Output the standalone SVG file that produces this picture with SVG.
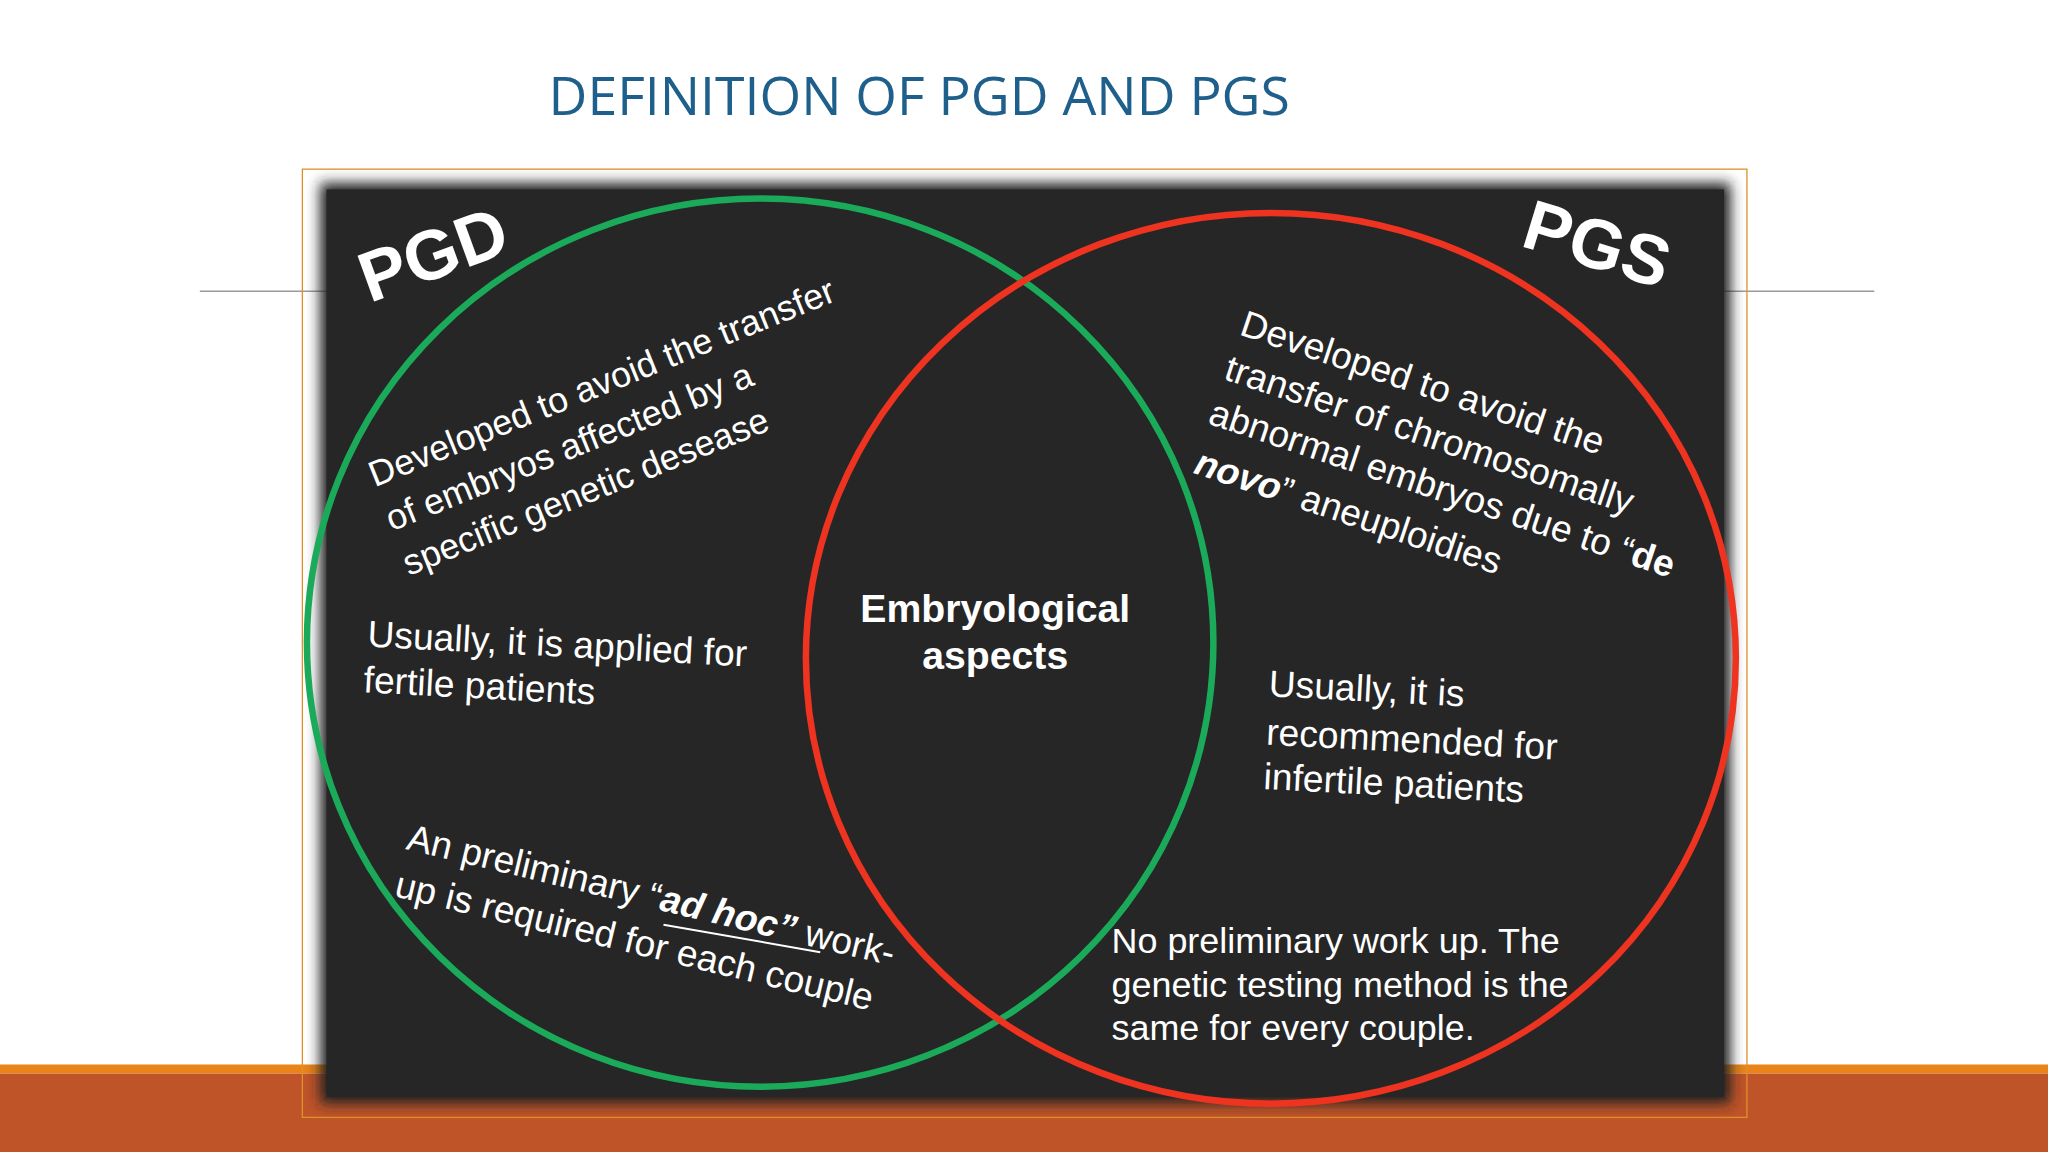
<svg xmlns="http://www.w3.org/2000/svg" width="2048" height="1152" viewBox="0 0 2048 1152">
<defs>
<style>
.t{font-family:"Liberation Sans",Arial,sans-serif;fill:#fff;font-size:27.5px}
.m{font-size:28.5px}
.p{font-size:28.5px}
.h{font-size:54px;font-weight:bold}
.b{font-weight:bold}
</style>
<filter id="bl" x="-5%" y="-5%" width="110%" height="110%"><feGaussianBlur stdDeviation="5"/></filter>
</defs>
<rect width="2048" height="1152" fill="#fff"/>
<g transform="scale(1.30612)">
<text x="420" y="88" font-family="Open Sans,Liberation Sans,sans-serif" font-size="41" fill="#1f5f8b">DEFINITION OF PGD AND PGS</text>
<g stroke="#999" stroke-width="1"><line x1="153" y1="223" x2="250" y2="223"/><line x1="1318" y1="223" x2="1435" y2="223"/></g>
<rect x="0" y="815" width="1568" height="7" fill="#e8841a"/>
<rect x="0" y="822" width="1568" height="60" fill="#bf5429"/>
<rect x="231.5" y="129.5" width="1106" height="726" fill="none" stroke="#e0902a" stroke-width="1"/>
<g id="board">
<rect x="245" y="140" width="1080" height="705" fill="#222" filter="url(#bl)"/>
<rect x="250" y="145" width="1070" height="695" fill="#262626"/>
</g>
<g id="connectors" fill="none" stroke-width="5">
<ellipse id="pgd-circle" cx="582" cy="492" rx="347" ry="340" stroke="#1aaa5a"/>
<ellipse id="pgs-circle" cx="973" cy="504" rx="356" ry="341" stroke="#ee3320"/>
</g>
<g id="pgd">
<text class="t h" transform="translate(283,232) rotate(-20)">PGD</text>
<text class="t" transform="translate(287,373) rotate(-22)">Developed to avoid the transfer</text>
<text class="t" transform="translate(300,407) rotate(-22)">of embryos affected by a</text>
<text class="t" transform="translate(313,441) rotate(-22)">specific genetic desease</text>
<text class="t m" transform="translate(281,495) rotate(3)">Usually, it is applied for</text>
<text class="t m" transform="translate(278,530) rotate(3)">fertile patients</text>
<text class="t m" transform="translate(310,650) rotate(13.5)">An preliminary “<tspan class="b" font-style="italic">ad hoc”</tspan> work-</text>
<text class="t m" transform="translate(301,686) rotate(13.5)">up is required for each couple</text>
<line x1="508" y1="708" x2="628" y2="729" stroke="#fff" stroke-width="1.5"/>
</g>
<g id="pgs">
<text class="t h" transform="translate(1163,188) rotate(17)">PGS</text>
<text class="t p" transform="translate(948,256) rotate(18.5)">Developed to avoid the</text>
<text class="t p" transform="translate(936,290) rotate(18.5)">transfer of chromosomally</text>
<text class="t p" transform="translate(924,324) rotate(18.5)">abnormal embryos due to “<tspan class="b">de</tspan></text>
<text class="t p" transform="translate(913,362) rotate(18.5)"><tspan class="b" font-style="italic">novo</tspan>” aneuploidies</text>
<text class="t m" transform="translate(971,533) rotate(3)">Usually, it is</text>
<text class="t m" transform="translate(969,570) rotate(3)">recommended for</text>
<text class="t m" transform="translate(967,604) rotate(3)">infertile patients</text>
<text class="t" x="851" y="730">No preliminary work up. The</text>
<text class="t" x="851" y="763">genetic testing method is the</text>
<text class="t" x="851" y="796">same for every couple.</text>
</g>
<g id="common">
<text class="t b" style="font-size:30px" x="762" y="476" text-anchor="middle">Embryological</text>
<text class="t b" style="font-size:30px" x="762" y="512" text-anchor="middle">aspects</text>
</g>
</g>
</svg>
